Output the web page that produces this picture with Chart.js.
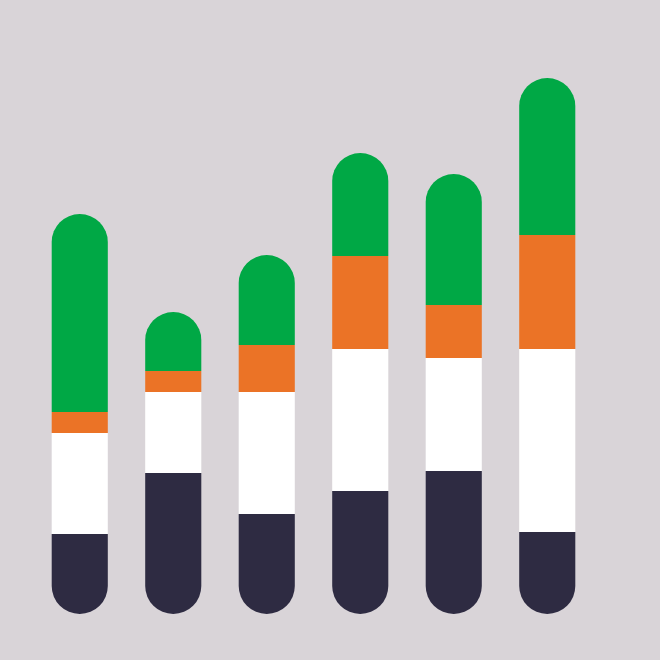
<!DOCTYPE html>
<html>
<head>
<meta charset="utf-8">
<script src="https://cdn.jsdelivr.net/npm/chart.js@4"></script>
<style>
  html, body { margin: 0; padding: 0; background: #d9d4d8; }
  #wrap { width: 660px; height: 660px; }
</style>
</head>
<body>
<div id="wrap"><canvas id="chart" width="660" height="660"></canvas></div>
<script>
var categories = ['1', '2', '3', '4', '5', '6'];
var darkValues = [80, 141, 100, 123, 143, 82];
var whiteValues = [101, 81, 122, 142, 113, 183];
var orangeValues = [21, 21, 47, 93, 53, 114];
var greenValues = [198, 59, 90, 103, 131, 157];

var r = 28;

const ctx = document.getElementById('chart').getContext('2d');
new Chart(ctx, {
    type: 'bar',
    data: {
        labels: categories,
        datasets: [
            { data: darkValues, backgroundColor: '#2e2b42',
              borderRadius: { bottomLeft: r, bottomRight: r, topLeft: 0, topRight: 0 } },
            { data: whiteValues, backgroundColor: '#ffffff', borderRadius: 0 },
            { data: orangeValues, backgroundColor: '#eb7326', borderRadius: 0 },
            { data: greenValues, backgroundColor: '#00a845',
              borderRadius: { topLeft: r, topRight: r, bottomLeft: 0, bottomRight: 0 } }
        ]
    },
    options: {
        responsive: false,
        animation: false,
        layout: { padding: { left: 33, right: 66, top: 54, bottom: 46 } },
        datasets: {
            bar: {
                borderSkipped: false,
                barPercentage: 1,
                categoryPercentage: 0.6
            }
        },
        plugins: { legend: { display: false }, tooltip: { enabled: false } },
        scales: {
            x: { stacked: true, display: false },
            y: { stacked: true, display: false, min: 0, max: 560 }
        }
    }
});
</script>
</body>
</html>
